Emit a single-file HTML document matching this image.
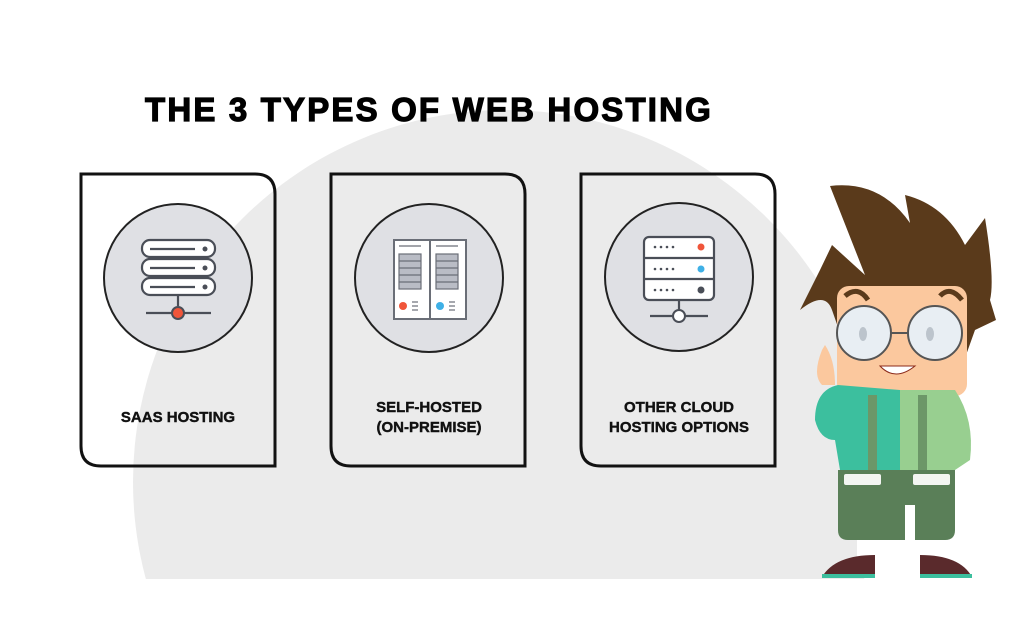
<!DOCTYPE html>
<html><head><meta charset="utf-8"><style>
html,body{margin:0;padding:0;background:#fff;width:1024px;height:623px;overflow:hidden;}
body{position:relative;font-family:"Liberation Sans",sans-serif;}
svg{display:block;}
</style></head><body>
<svg width="1024" height="623" viewBox="0 0 1024 623" xmlns="http://www.w3.org/2000/svg" style="position:absolute;left:0;top:0">
<defs><clipPath id="c"><rect x="0" y="0" width="1024" height="579"/></clipPath></defs>
<circle cx="505" cy="482" r="372" fill="#ebebeb" clip-path="url(#c)"/>
<text x="145" y="121" font-family="Liberation Sans" font-weight="bold" font-size="33" letter-spacing="1.2" fill="#000" stroke="#000" stroke-width="1.2" textLength="567">THE 3 TYPES OF WEB HOSTING</text>
<g fill="none" stroke="#111" stroke-width="3">
<path d="M81,174 H255 Q275,174 275,194 V466 H101 Q81,466 81,446 Z"/>
<path d="M331,174 H505 Q525,174 525,194 V466 H351 Q331,466 331,446 Z"/>
<path d="M581,174 H755 Q775,174 775,194 V466 H601 Q581,466 581,446 Z"/>
</g>
<g fill="#dfe0e4" stroke="#222" stroke-width="2">
<circle cx="178" cy="278" r="74"/><circle cx="429" cy="278" r="74"/><circle cx="679" cy="277" r="74"/>
</g>
<g stroke="#4a4e57" stroke-width="2.2" fill="#fff">
<rect x="142" y="240" width="73" height="17" rx="8"/>
<rect x="142" y="259" width="73" height="17" rx="8"/>
<rect x="142" y="278" width="73" height="17" rx="8"/>
<line x1="178" y1="295" x2="178" y2="306"/>
<line x1="146" y1="313" x2="211" y2="313"/>
<line x1="150" y1="249" x2="195" y2="249"/><line x1="150" y1="268" x2="195" y2="268"/><line x1="150" y1="287" x2="195" y2="287"/>
</g>
<g fill="#4a4e57"><circle cx="205" cy="249" r="2.5"/><circle cx="205" cy="268" r="2.5"/><circle cx="205" cy="287" r="2.5"/></g>
<circle cx="178" cy="313" r="6" fill="#f0553a" stroke="#4a4e57" stroke-width="2"/>
<g stroke="#6a6e77" stroke-width="2" fill="#fff">
<rect x="394" y="240" width="72" height="79"/>
<line x1="430" y1="240" x2="430" y2="319"/>
</g>
<g fill="#b9bcc5" stroke="#6a6e77" stroke-width="1.2">
<rect x="399" y="254" width="22" height="35"/><rect x="436" y="254" width="22" height="35"/>
</g>
<g stroke="#6a6e77" stroke-width="1.2">
<line x1="399" y1="261" x2="421" y2="261"/><line x1="399" y1="268" x2="421" y2="268"/><line x1="399" y1="275" x2="421" y2="275"/><line x1="399" y1="282" x2="421" y2="282"/>
<line x1="436" y1="261" x2="458" y2="261"/><line x1="436" y1="268" x2="458" y2="268"/><line x1="436" y1="275" x2="458" y2="275"/><line x1="436" y1="282" x2="458" y2="282"/>
<line x1="399" y1="246" x2="421" y2="246"/><line x1="436" y1="246" x2="458" y2="246"/>
<line x1="412" y1="302" x2="418" y2="302"/><line x1="412" y1="306" x2="418" y2="306"/><line x1="412" y1="310" x2="418" y2="310"/>
<line x1="449" y1="302" x2="455" y2="302"/><line x1="449" y1="306" x2="455" y2="306"/><line x1="449" y1="310" x2="455" y2="310"/>
</g>
<circle cx="403" cy="306" r="4" fill="#f0553a"/><circle cx="440" cy="306" r="4" fill="#3fb0e6"/>
<g stroke="#4a4e57" stroke-width="2.2" fill="#fff">
<rect x="644" y="237" width="70" height="63" rx="5"/>
<line x1="644" y1="258" x2="714" y2="258"/><line x1="644" y1="279" x2="714" y2="279"/>
<line x1="679" y1="300" x2="679" y2="310"/>
<line x1="650" y1="316" x2="708" y2="316"/>
</g>
<circle cx="679" cy="316" r="6" fill="#fff" stroke="#4a4e57" stroke-width="2"/>
<g fill="#4a4e57"><circle cx="655" cy="247" r="1.3"/><circle cx="661" cy="247" r="1.3"/><circle cx="667" cy="247" r="1.3"/><circle cx="673" cy="247" r="1.3"/>
<circle cx="655" cy="269" r="1.3"/><circle cx="661" cy="269" r="1.3"/><circle cx="667" cy="269" r="1.3"/><circle cx="673" cy="269" r="1.3"/>
<circle cx="655" cy="290" r="1.3"/><circle cx="661" cy="290" r="1.3"/><circle cx="667" cy="290" r="1.3"/><circle cx="673" cy="290" r="1.3"/>
<circle cx="701" cy="290" r="3.5"/></g>
<circle cx="701" cy="247" r="3.5" fill="#f0553a"/><circle cx="701" cy="269" r="3.5" fill="#3fb0e6"/>
<g font-family="Liberation Sans" font-weight="bold" font-size="15" fill="#111" stroke="#111" stroke-width="0.4" text-anchor="middle">
<text x="178" y="422">SAAS HOSTING</text>
<text x="429" y="412">SELF-HOSTED</text><text x="429" y="432">(ON-PREMISE)</text>
<text x="679" y="412">OTHER CLOUD</text><text x="679" y="432">HOSTING OPTIONS</text>
</g>
<path d="M832,245 L865,275 L830,186 Q880,180 910,223 L905,195 Q945,205 965,245 L985,218 Q995,280 990,300 L996,320 L975,330 L950,400 L860,390 L832,310 Q825,290 800,310 L820,270 Z" fill="#5a3a1b"/>
<rect x="837" y="286" width="130" height="110" rx="12" fill="#fbc89e"/>
<path d="M845,296 Q858,285 868,300 M940,296 Q950,285 962,300" stroke="#5a3a1b" stroke-width="5" fill="none"/>
<circle cx="864" cy="333" r="27" fill="#e8eef3" stroke="#555" stroke-width="2"/>
<circle cx="935" cy="333" r="27" fill="#e8eef3" stroke="#555" stroke-width="2"/>
<line x1="891" y1="333" x2="908" y2="333" stroke="#555" stroke-width="2"/>
<ellipse cx="863" cy="334" rx="4" ry="7" fill="#bcc4cc"/><ellipse cx="930" cy="334" rx="4" ry="7" fill="#bcc4cc"/>
<path d="M880,366 Q895,382 915,366 Z" fill="#fff" stroke="#8b2a1a" stroke-width="1"/>
<path d="M822,350 Q812,375 822,385 L835,385 Q835,360 825,345 Z" fill="#fbc89e"/>
<path d="M838,385 Q815,390 815,420 Q820,440 835,440 L840,470 L900,470 L900,390 Z" fill="#3cbf9e"/>
<path d="M900,390 L955,390 Q975,420 970,460 L955,470 L900,470 Z" fill="#98cf90"/>
<rect x="868" y="395" width="9" height="75" fill="#6c9768"/><rect x="918" y="395" width="9" height="75" fill="#6c9768"/>
<path d="M838,470 H955 V530 Q955,540 945,540 H915 V505 H905 V540 H848 Q838,540 838,530 Z" fill="#5a7f58"/>
<rect x="844" y="474" width="37" height="11" rx="2" fill="#f3f5f2"/><rect x="913" y="474" width="37" height="11" rx="2" fill="#f3f5f2"/>
<rect x="857" y="540" width="18" height="30" fill="#fff"/><rect x="920" y="540" width="18" height="30" fill="#fff"/>
<path d="M822,577 Q835,555 875,555 V577 Z" fill="#5a2a2c"/><path d="M920,555 Q960,555 972,577 H920 Z" fill="#5a2a2c"/>
<rect x="822" y="574" width="53" height="4" fill="#3cbf9e"/><rect x="920" y="574" width="52" height="4" fill="#3cbf9e"/>
</svg>
</body></html>
